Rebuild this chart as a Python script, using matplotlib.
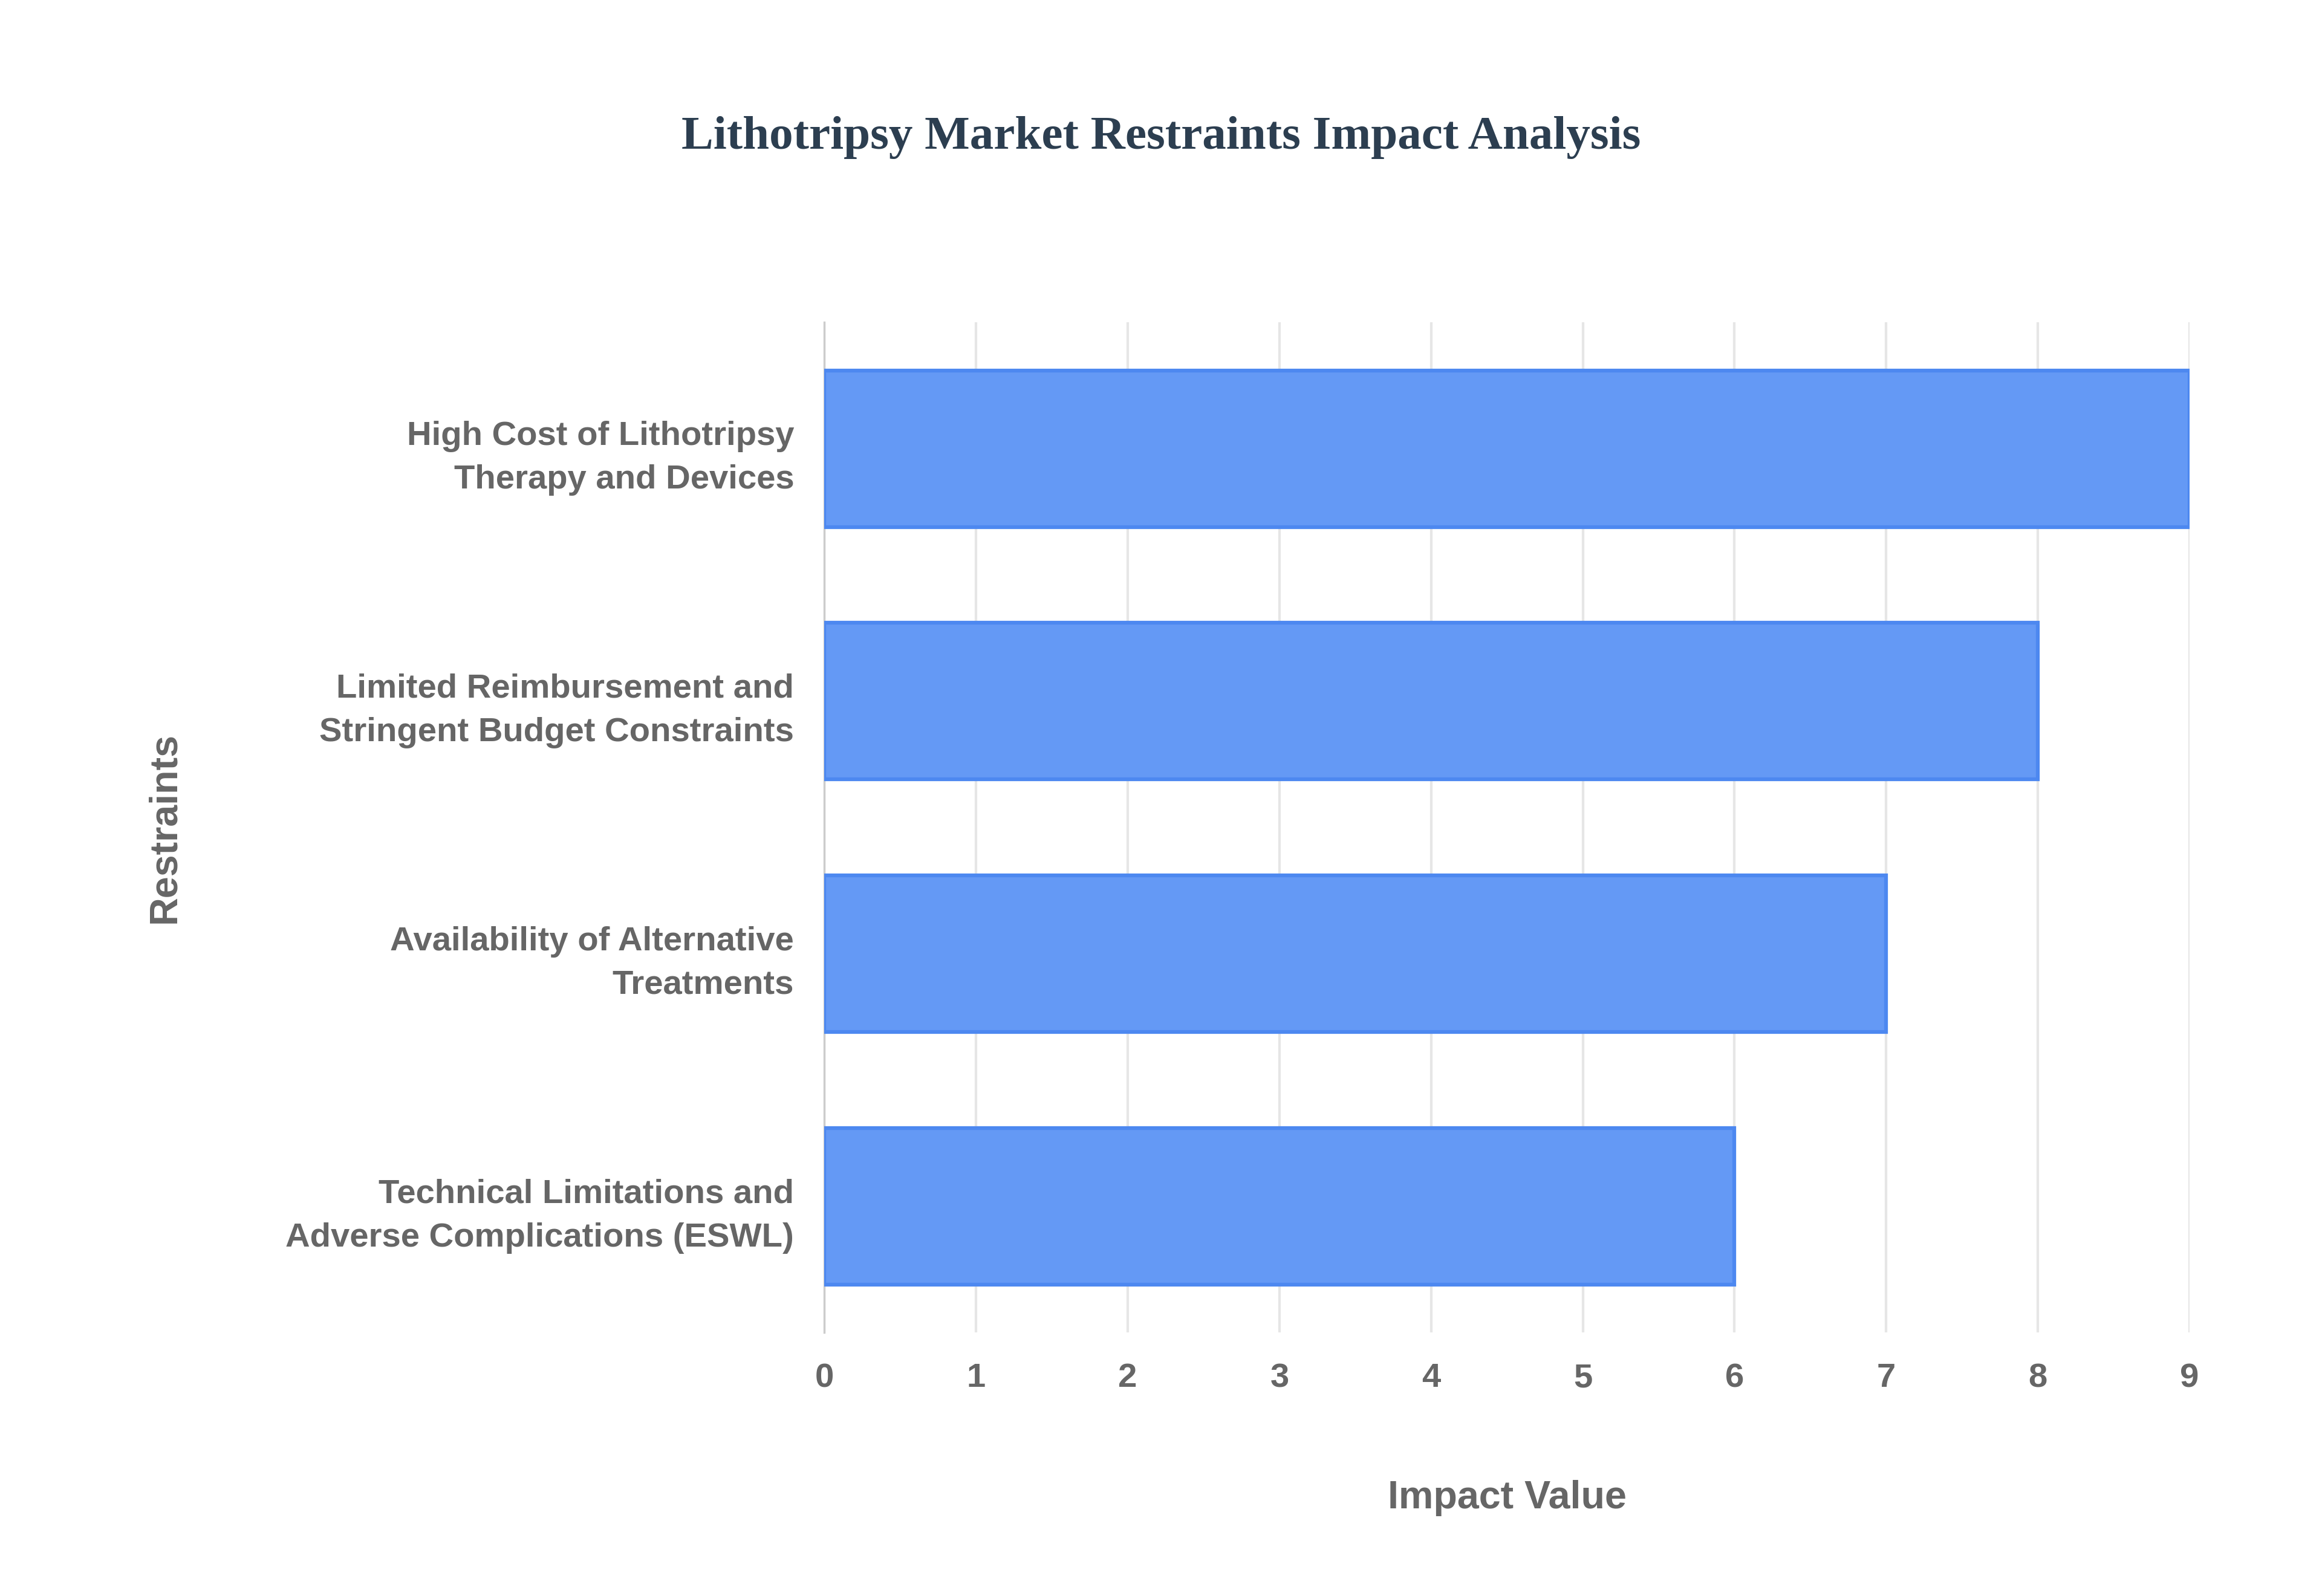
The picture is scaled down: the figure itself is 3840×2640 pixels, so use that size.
import matplotlib.pyplot as plt

restraints = [
    "High Cost of Lithotripsy\nTherapy and Devices",
    "Limited Reimbursement and\nStringent Budget Constraints",
    "Availability of Alternative\nTreatments",
    "Technical Limitations and\nAdverse Complications (ESWL)",
]
impact = [9, 8, 7, 6]

fig = plt.figure(figsize=(12.8, 8.8), dpi=300)
ax = fig.add_axes([0.355, 0.165, 0.588, 0.633])

pos = list(range(len(restraints)))[::-1]
ax.barh(pos, impact, height=0.62, color="#6499F5", edgecolor="#4D88F0", linewidth=1.5, zorder=3)

ax.set_xlim(0, 9)
ax.set_ylim(-0.5, 3.5)
ax.set_xticks(range(10))
ax.set_yticks(pos)
ax.set_yticklabels(restraints, linespacing=1.5)
ax.grid(axis="x", color="#e6e6e6", linewidth=1, zorder=0)
for s in ["top", "right", "bottom"]:
    ax.spines[s].set_visible(False)
ax.spines["left"].set_color("#cccccc")
ax.tick_params(axis="both", length=0, labelsize=13.5, labelcolor="#666666", pad=12)
for lab in ax.get_xticklabels() + ax.get_yticklabels():
    lab.set_fontweight("bold")
    lab.set_family("Liberation Sans")

ax.set_xlabel("Impact Value", fontsize=15.5, fontweight="bold", color="#666666",
              family="Liberation Sans", labelpad=34)
ax.set_ylabel("Restraints", fontsize=15.5, fontweight="bold", color="#666666",
              family="Liberation Sans")
ax.yaxis.set_label_coords(-0.47, 0.5)

fig.text(0.5, 0.914, "Lithotripsy Market Restraints Impact Analysis", ha="center", va="center",
         fontsize=19, fontweight="bold", color="#2c3e50", family="Liberation Serif")

fig.savefig("out.png")
